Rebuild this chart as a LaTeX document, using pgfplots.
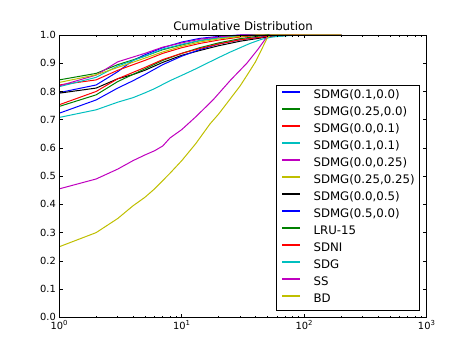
\documentclass[border=0pt]{standalone}
\usepackage{fontspec}
\setmainfont{DejaVu Sans}
\usepackage{pgfplots}
\pgfplotsset{compat=1.18}
\definecolor{mb}{rgb}{0,0,1}
\definecolor{mg}{rgb}{0,0.5,0}
\definecolor{mr}{rgb}{1,0,0}
\definecolor{mc}{rgb}{0,0.75,0.75}
\definecolor{mm}{rgb}{0.75,0,0.75}
\definecolor{my}{rgb}{0.75,0.75,0}
\definecolor{mk}{rgb}{0,0,0}
\begin{document}
\begin{tikzpicture}
\path[use as bounding box] (0bp,0bp) rectangle (474bp,353bp);
\begin{axis}[
  at={(59.3bp,35.7bp)}, anchor=south west,
  scale only axis, width=367.4bp, height=282.3bp,
  xmode=log, xmin=1, xmax=1000, ymin=0, ymax=1,
  axis on top,
  axis line style={line width=0.8bp},
  every tick/.style={black, line width=0.6bp},
  tick align=inside,
  major tick length=3.3bp, minor tick length=1.7bp,
  xtick={1,10,100,1000},
  xticklabels={10\textsuperscript{0},10\textsuperscript{1},10\textsuperscript{2},10\textsuperscript{3}},
  ytick={0,0.1,0.2,0.3,0.4,0.5,0.6,0.7,0.8,0.9,1.0},
  yticklabel style={/pgf/number format/.cd, fixed, fixed zerofill, precision=1, assume math mode=true},
  tick label style={font=\fontsize{9.9}{11}\selectfont},
  title={Cumulative Distribution},
  title style={font=\fontsize{11.8}{13}\selectfont, at={(0.5,1)}, anchor=base, yshift=-1bp},
  no markers,
  every axis plot/.append style={line width=1bp},
  legend cell align=left,
  legend image code/.code={\draw[#1, line width=1.1bp] (0bp,3.8bp) -- (18bp,3.8bp);},
  legend style={at={(1,0)}, anchor=south east, xshift=-6.7bp, yshift=6.3bp,
    draw=black, line width=0.8bp, inner xsep=5bp, inner ysep=5.3bp,
    font=\fontsize{11.8}{13}\selectfont, row sep=6bp,
    nodes={inner sep=0pt, text height=8.5bp, text depth=2.5bp},
    /tikz/every odd column/.append style={column sep=12.7bp}},
]
\addplot[color=mb] coordinates {(1,0.796)(2,0.823)(3,0.87)(4,0.91)(5,0.93)(7,0.955)(10,0.975)(14,0.988)(20,0.995)(30,1)(200,1)};
\addlegendentry{SDMG(0.1,0.0)}
\addplot[color=mg] coordinates {(1,0.841)(2,0.864)(3,0.895)(5,0.925)(7,0.948)(10,0.965)(14,0.98)(20,0.99)(35,1)(200,1)};
\addlegendentry{SDMG(0.25,0.0)}
\addplot[color=mr] coordinates {(1,0.823)(2,0.841)(3,0.875)(5,0.91)(7,0.935)(10,0.955)(14,0.97)(20,0.982)(30,0.993)(45,1)(200,1)};
\addlegendentry{SDMG(0.0,0.1)}
\addplot[color=mc] coordinates {(1,0.817)(2,0.85)(3,0.89)(5,0.925)(7,0.95)(10,0.967)(14,0.98)(20,0.99)(35,1)(200,1)};
\addlegendentry{SDMG(0.1,0.1)}
\addplot[color=mm] coordinates {(1,0.82)(2,0.858)(3,0.905)(5,0.935)(7,0.957)(10,0.972)(14,0.985)(20,0.993)(30,1)(200,1)};
\addlegendentry{SDMG(0.0,0.25)}
\addplot[color=my] coordinates {(1,0.832)(2,0.859)(3,0.885)(5,0.918)(7,0.94)(10,0.96)(14,0.975)(20,0.986)(30,0.995)(40,1)(200,1)};
\addlegendentry{SDMG(0.25,0.25)}
\addplot[color=mk] coordinates {(1,0.794)(2,0.812)(3,0.845)(4,0.86)(5,0.875)(7,0.903)(10,0.928)(14,0.945)(20,0.962)(30,0.978)(50,0.993)(80,1)(200,1)};
\addlegendentry{SDMG(0.0,0.5)}
\addplot[color=mb] coordinates {(1,0.723)(2,0.77)(3,0.812)(4,0.838)(5,0.86)(7,0.895)(10,0.925)(14,0.948)(20,0.968)(30,0.983)(50,0.996)(70,1)(200,1)};
\addlegendentry{SDMG(0.5,0.0)}
\addplot[color=mg] coordinates {(1,0.747)(2,0.788)(3,0.835)(5,0.88)(7,0.91)(10,0.935)(14,0.955)(20,0.972)(30,0.987)(50,1)(200,1)};
\addlegendentry{LRU-15}
\addplot[color=mr] coordinates {(1,0.753)(2,0.80)(3,0.845)(5,0.885)(7,0.913)(10,0.935)(14,0.952)(20,0.968)(30,0.983)(50,0.995)(80,1)(200,1)};
\addlegendentry{SDNI}
\addplot[color=mc] coordinates {(1,0.708)(2,0.735)(3,0.762)(4,0.778)(5,0.795)(6,0.81)(8,0.838)(10,0.857)(13,0.88)(17,0.905)(20,0.92)(25,0.94)(30,0.955)(36,0.97)(45,0.985)(55,0.993)(70,0.997)(100,1)(200,1)};
\addlegendentry{SDG}
\addplot[color=mm] coordinates {(1,0.455)(2,0.49)(3,0.525)(4,0.555)(5,0.575)(6,0.59)(7,0.607)(8,0.635)(10,0.665)(13,0.71)(18,0.77)(25,0.84)(34,0.9)(42,0.95)(48,0.985)(52,1)(200,1)};
\addlegendentry{SS}
\addplot[color=my] coordinates {(1,0.25)(2,0.30)(3,0.35)(4,0.395)(5,0.425)(6,0.455)(8,0.51)(10,0.555)(13,0.615)(17,0.685)(20,0.72)(25,0.775)(30,0.82)(35,0.865)(40,0.905)(45,0.95)(50,0.99)(53,1)(200,1)};
\addlegendentry{BD}
\end{axis}
\end{tikzpicture}
\end{document}
